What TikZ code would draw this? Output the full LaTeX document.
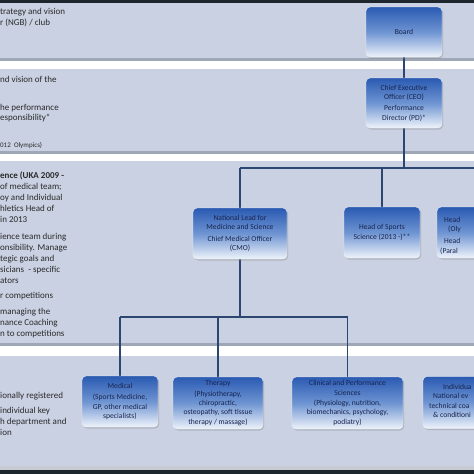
\documentclass[tikz,border=0pt]{standalone}
\usepackage{fontspec}
\setmainfont{Carlito}
\usetikzlibrary{shadows}
\definecolor{bandcol}{HTML}{C9D1E2}
\definecolor{bandedge}{HTML}{9EA7B6}
\definecolor{darkbar}{HTML}{1C262C}
\definecolor{nodetop}{HTML}{2A5AB2}
\definecolor{nodemid}{HTML}{6E94D2}
\definecolor{nodebot}{HTML}{EEF3FA}
\definecolor{nodetxt}{HTML}{17244F}
\definecolor{conncol}{HTML}{2B4670}
\definecolor{lefttxt}{HTML}{2A2A2A}
\tikzset{
  x=1pt, y=-1pt,
  orgbox/.style={draw=white!70!bandcol, line width=0.4pt, rounded corners=4pt,
    top color=nodetop, bottom color=nodebot, middle color=nodemid,
    drop shadow={shadow xshift=1pt, shadow yshift=-1.5pt, opacity=0.35},
    text=nodetxt, font=\fontsize{7.6}{9.4}\selectfont, align=center, inner sep=1pt},
  conn/.style={draw=conncol, line width=1.1pt},
  lefttext/.style={anchor=base west, inner sep=0pt, font=\fontsize{9}{11}\selectfont, text=lefttxt},
  smalltext/.style={anchor=base west, inner sep=0pt, font=\fontsize{7}{9}\selectfont, text=lefttxt},
  boxtext/.style={anchor=base west, inner sep=0pt, font=\fontsize{7.6}{9.4}\selectfont, text=nodetxt},
  bandstyle/.style={fill=bandcol, draw=none}
}
\begin{document}
\begin{tikzpicture}
\useasboundingbox (0,0) rectangle (474,474);
\clip (0,0) rectangle (474,474);
% background and bands
\fill[white] (0,0) rectangle (474,474);
\fill[darkbar] (0,0) rectangle (474,2.5);
\fill[bandstyle] (0,2.5) rectangle (474,59);
\fill[bandedge] (0,58) rectangle (474,61);
\fill[bandstyle] (0,69) rectangle (474,151);
\fill[bandedge] (0,151) rectangle (474,154);
\fill[bandstyle] (0,161) rectangle (474,343);
\fill[bandedge] (0,343) rectangle (474,346);
\fill[bandstyle] (0,356) rectangle (474,466);
\fill[bandedge!60!white] (0,466) rectangle (474,470);
\fill[darkbar] (0,470) rectangle (474,474);

% left texts
\node[lefttext] (t1a) at (0,14) {trategy and vision};
\node[lefttext] (t1b) at (0,25) {r (NGB) / club};
\node[lefttext] (t2a) at (0,82) {nd vision of the};
\node[lefttext] (t2b) at (0,110) {he performance};
\node[lefttext] (t2c) at (0,120.5) {esponsibility*};
\node[smalltext] (t2d) at (0,147) {012 \ Olympics)};
\node[lefttext, font=\fontsize{9}{11}\selectfont\bfseries] (t3a) at (0,178) {ence (UKA 2009 -};
\node[lefttext] (t3b) at (0,189) {of medical team;};
\node[lefttext] (t3c) at (0,200) {oy and Individual};
\node[lefttext] (t3d) at (0,211) {hletics Head of};
\node[lefttext] (t3e) at (0,222) {in 2013};
\node[lefttext] (t3f) at (0,239) {ience team during};
\node[lefttext] (t3g) at (0,250) {onsibility. Manage};
\node[lefttext] (t3h) at (0,261) {tegic goals and};
\node[lefttext] (t3i) at (0,272) {sicians \ - specific};
\node[lefttext] (t3j) at (0,283) {ators};
\node[lefttext] (t3k) at (0,298) {r competitions};
\node[lefttext] (t3l) at (0,314) {managing the};
\node[lefttext] (t3m) at (0,325) {nance Coaching};
\node[lefttext] (t3n) at (0,336) {n to competitions};
\node[lefttext] (t4a) at (0,398) {ionally registered};
\node[lefttext] (t4b) at (0,413) {individual key};
\node[lefttext] (t4c) at (0,424) {h department and};
\node[lefttext] (t4d) at (0,435) {ion};

% coordinates
\coordinate (j1) at (404,168);
\coordinate (jL) at (240,168);
\coordinate (jS) at (382,168);
\coordinate (jB) at (240,317);
\coordinate (jBL) at (120,317);
\coordinate (jBT) at (218,317);
\coordinate (jBR) at (347.5,317);

% connectors (drawn first so boxes sit on top)
\draw[conn] (404,32) -- (404,103);
\draw[conn] (404,103) -- (j1);
\draw[conn] (jL) -- (480,168);
\draw[conn] (jL) -- (jB);
\draw[conn] (jS) -- (382,232);
\draw[conn] (jBL) -- (jBR);
\draw[conn] (jBL) -- (120,401);
\draw[conn] (jBT) -- (218,403);
\draw[conn] (jBR) -- (347.5,403);

% nodes
\node[orgbox, minimum width=76pt, minimum height=50pt] (board) at (404,32) {Board};
\node[orgbox, minimum width=76pt, minimum height=50pt] (ceo) at (404,103)
  {Chief Executive\\Officer (CEO)\\[2pt]Performance\\Director (PD)*};
\node[orgbox, minimum width=94pt, minimum height=51pt] (natlead) at (240,233.5)
  {National Lead for\\Medicine and Science\\[2pt]Chief Medical Officer\\(CMO)};
\node[orgbox, minimum width=76pt, minimum height=51pt] (hss) at (382,232.5)
  {Head of Sports\\Science (2013 -)**};
\node[orgbox, minimum width=80pt, minimum height=51pt] (hc) at (477,232.5) {};
\node[boxtext] (hc1) at (444,222) {Head};
\node[boxtext] (hc2) at (448,231.5) {(Oly};
\node[boxtext] (hc3) at (444,243.5) {Head};
\node[boxtext] (hc4) at (440,253) {(Paral};

\node[orgbox, minimum width=76pt, minimum height=51pt] (med) at (120,401.5)
  {Medical\\[2pt](Sports Medicine,\\GP, other medical\\specialists)};
\node[orgbox, minimum width=90pt, minimum height=52pt] (ther) at (218,403)
  {Therapy\\[1pt](Physiotherapy,\\chiropractic,\\osteopathy, soft tissue\\therapy / massage)};
\node[orgbox, minimum width=111pt, minimum height=52pt] (clin) at (347.5,403)
  {Clinical and Performance\\Sciences\\[1pt](Physiology, nutrition,\\biomechanics, psychology,\\podiatry)};
\node[orgbox, minimum width=80pt, minimum height=52pt] (ind) at (463,402.5) {};
\node[boxtext] (in1) at (443,389) {Individua};
\node[boxtext] (in2) at (433,398.5) {National ev};
\node[boxtext] (in3) at (429,408) {technical coa};
\node[boxtext] (in4) at (433,417.5) {\& conditioni};
\end{tikzpicture}
\end{document}
